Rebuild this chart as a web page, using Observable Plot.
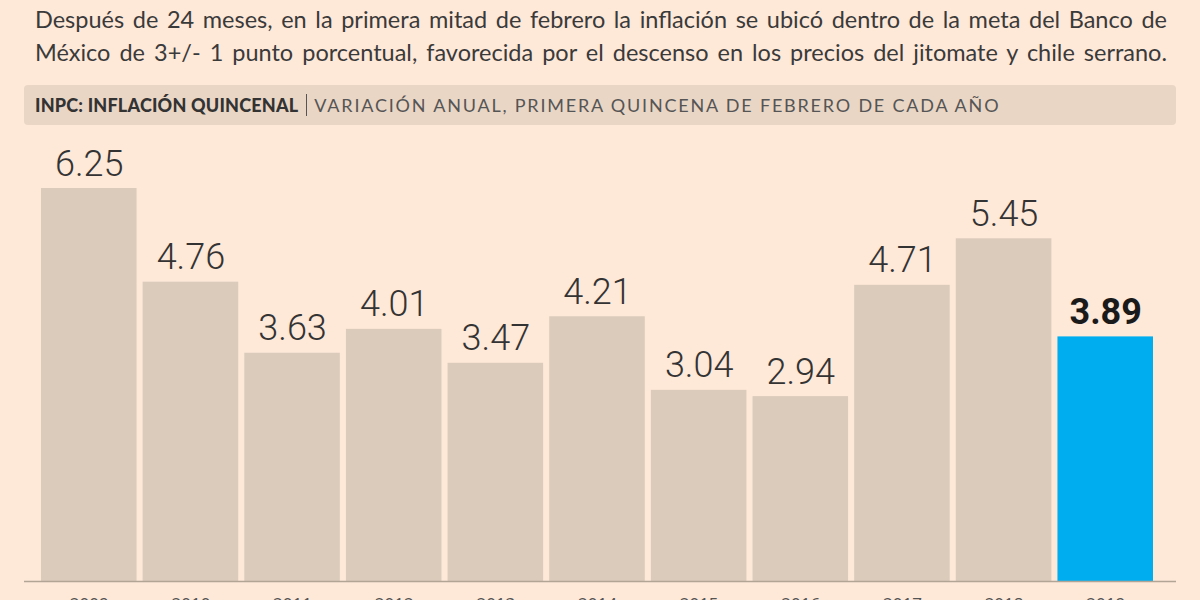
<!DOCTYPE html>
<html lang="es">
<head>
<meta charset="utf-8">
<script src="https://cdn.jsdelivr.net/npm/d3@7"></script>
<script src="https://cdn.jsdelivr.net/npm/@observablehq/plot@0.6"></script>
<style>
  html, body { margin: 0; padding: 0; background: #FEE8D8; width: 1200px; height: 600px; overflow: hidden; }
  body { position: relative; font-family: Lato, "Open Sans", sans-serif; }
  #intro { position: absolute; left: 35px; top: 3px; width: 1132px; color: #3a3a3a; font-size: 23.5px; line-height: 33px; }
  #intro div { text-align: justify; text-align-last: justify; }
  #band { position: absolute; left: 24px; top: 85px; width: 1152px; height: 40px; background: #EAD6C5; border-radius: 4px; box-sizing: border-box; padding-left: 11px; line-height: 40px; font-size: 18px; color: #555; white-space: nowrap; }
  #band b { color: #333; font-weight: 900; letter-spacing: 0.2px; }
  #band .reg { letter-spacing: 1.8px; }
  #band .sep { display: inline-block; width: 1px; height: 22px; background: #555; vertical-align: middle; margin: 0 7px 0 8px; position: relative; top: -2px; }
  #chart { position: absolute; left: 0; top: 130px; }
</style>
</head>
<body>
<div id="intro">
  <div>Después de 24 meses, en la primera mitad de febrero la inflación se ubicó dentro de la meta del Banco de</div>
  <div>México de 3+/- 1 punto porcentual, favorecida por el descenso en los precios del jitomate y chile serrano.</div>
</div>
<div id="band"><b>INPC: INFLACIÓN QUINCENAL</b><span class="sep"></span><span class="reg">VARIACIÓN ANUAL, PRIMERA QUINCENA DE FEBRERO DE CADA AÑO</span></div>
<div id="chart"></div>
<script>
// Annual INPC variation, first fortnight of February
const years = ["2009", "2010", "2011", "2012", "2013", "2014", "2015", "2016", "2017", "2018", "2019"];
const inflation = [6.25, 4.76, 3.63, 4.01, 3.47, 4.21, 3.04, 2.94, 4.71, 5.45, 3.89];
const latestYear = "2019";

const rows = years.map((year, i) => ({ year, value: inflation[i], latest: year === latestYear }));

const chart = Plot.plot({
  width: 1200,
  height: 490,
  marginLeft: 41,
  marginRight: 47,
  marginTop: 58,
  marginBottom: 39,
  style: { background: "transparent", overflow: "visible" },
  x: { domain: years, paddingInner: 0.06, paddingOuter: 0, round: false, label: null },
  y: { domain: [0, 6.25], axis: null },
  marks: [
    Plot.barY(rows, { x: "year", y: "value", fill: d => d.latest ? "#00AEEF" : "#DBCBBB" }),
    Plot.ruleY([0], { stroke: "#B2A596", strokeWidth: 1.5, insetLeft: -17, insetRight: -23 }),
    Plot.text(rows.filter(d => !d.latest), {
      x: "year", y: "value", text: d => d.value.toFixed(2),
      dy: -13, lineAnchor: "bottom", fontSize: 36, fontWeight: 300, fill: "#333",
      fontFamily: "Roboto, 'Open Sans', sans-serif"
    }),
    Plot.text(rows.filter(d => d.latest), {
      x: "year", y: "value", text: d => d.value.toFixed(2),
      dy: -13, lineAnchor: "bottom", fontSize: 36, fontWeight: 700, fill: "#1a1a1a",
      fontFamily: "Roboto, 'Open Sans', sans-serif"
    }),
    Plot.axisX({ tickSize: 0, tickPadding: 16, fontSize: 17, color: "#555", label: null })
  ]
});
document.getElementById("chart").appendChild(chart);
</script>
</body>
</html>
